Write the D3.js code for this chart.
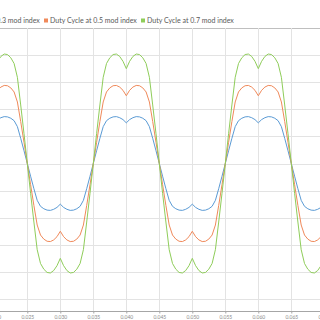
<!DOCTYPE html>
<html>
<head>
<meta charset="utf-8">
<script src="https://cdn.jsdelivr.net/npm/d3@7"></script>
<style>
html,body{margin:0;padding:0;background:#fff;overflow:hidden;}
svg{display:block;}
</style>
</head>
<body>
<svg id="chart" width="320" height="320"></svg>
<script>
const seriesNames = ["Duty Cycle at 0.3 mod index", "Duty Cycle at 0.5 mod index", "Duty Cycle at 0.7 mod index"];
const seriesColors = ["#5b9bd5", "#f0895a", "#8fcd5a"];

const xTicks = [0.020, 0.025, 0.030, 0.035, 0.040, 0.045, 0.050, 0.055, 0.060, 0.065, 0.070];
const yTicks = [0.0, 0.1, 0.2, 0.3, 0.4, 0.5, 0.6, 0.7, 0.8, 0.9, 1.0];

const times = [
 0.0200,0.0205,0.0210,0.0215,0.0220,0.0225,0.0230,0.0235,0.0240,0.0245,
 0.0250,0.0255,0.0260,0.0265,0.0270,0.0275,0.0280,0.0285,0.0290,0.0295,
 0.0300,0.0305,0.0310,0.0315,0.0320,0.0325,0.0330,0.0335,0.0340,0.0345,
 0.0350,0.0355,0.0360,0.0365,0.0370,0.0375,0.0380,0.0385,0.0390,0.0395,
 0.0400,0.0405,0.0410,0.0415,0.0420,0.0425,0.0430,0.0435,0.0440,0.0445,
 0.0450,0.0455,0.0460,0.0465,0.0470,0.0475,0.0480,0.0485,0.0490,0.0495,
 0.0500,0.0505,0.0510,0.0515,0.0520,0.0525,0.0530,0.0535,0.0540,0.0545,
 0.0550,0.0555,0.0560,0.0565,0.0570,0.0575,0.0580,0.0585,0.0590,0.0595,
 0.0600,0.0605,0.0610,0.0615,0.0620,0.0625,0.0630,0.0635,0.0640,0.0645,
 0.0650,0.0655,0.0660,0.0665,0.0670,0.0675,0.0680,0.0685,0.0690,0.0695,
 0.0700
];

const duty03 = [
 0.650,0.662,0.669,0.673,0.672,0.667,0.658,0.636,0.593,0.547,
 0.500,0.453,0.407,0.364,0.342,0.333,0.328,0.327,0.331,0.338,
 0.350,0.338,0.331,0.327,0.328,0.333,0.342,0.364,0.407,0.453,
 0.500,0.547,0.593,0.636,0.658,0.667,0.672,0.673,0.669,0.662,
 0.650,0.662,0.669,0.673,0.672,0.667,0.658,0.636,0.593,0.547,
 0.500,0.453,0.407,0.364,0.342,0.333,0.328,0.327,0.331,0.338,
 0.350,0.338,0.331,0.327,0.328,0.333,0.342,0.364,0.407,0.453,
 0.500,0.547,0.593,0.636,0.658,0.667,0.672,0.673,0.669,0.662,
 0.650,0.662,0.669,0.673,0.672,0.667,0.658,0.636,0.593,0.547,
 0.500,0.453,0.407,0.364,0.342,0.333,0.328,0.327,0.331,0.338,
 0.350
];

const duty05 = [
 0.750,0.770,0.782,0.788,0.787,0.779,0.764,0.727,0.655,0.578,
 0.500,0.422,0.345,0.273,0.236,0.221,0.213,0.212,0.218,0.230,
 0.250,0.230,0.218,0.212,0.213,0.221,0.236,0.273,0.345,0.422,
 0.500,0.578,0.655,0.727,0.764,0.779,0.787,0.788,0.782,0.770,
 0.750,0.770,0.782,0.788,0.787,0.779,0.764,0.727,0.655,0.578,
 0.500,0.422,0.345,0.273,0.236,0.221,0.213,0.212,0.218,0.230,
 0.250,0.230,0.218,0.212,0.213,0.221,0.236,0.273,0.345,0.422,
 0.500,0.578,0.655,0.727,0.764,0.779,0.787,0.788,0.782,0.770,
 0.750,0.770,0.782,0.788,0.787,0.779,0.764,0.727,0.655,0.578,
 0.500,0.422,0.345,0.273,0.236,0.221,0.213,0.212,0.218,0.230,
 0.250
];

const duty07 = [
 0.850,0.877,0.895,0.904,0.902,0.890,0.869,0.818,0.716,0.610,
 0.500,0.390,0.284,0.182,0.131,0.110,0.098,0.096,0.105,0.123,
 0.150,0.123,0.105,0.096,0.098,0.110,0.131,0.182,0.284,0.390,
 0.500,0.610,0.716,0.818,0.869,0.890,0.902,0.904,0.895,0.877,
 0.850,0.877,0.895,0.904,0.902,0.890,0.869,0.818,0.716,0.610,
 0.500,0.390,0.284,0.182,0.131,0.110,0.098,0.096,0.105,0.123,
 0.150,0.123,0.105,0.096,0.098,0.110,0.131,0.182,0.284,0.390,
 0.500,0.610,0.716,0.818,0.869,0.890,0.902,0.904,0.895,0.877,
 0.850,0.877,0.895,0.904,0.902,0.890,0.869,0.818,0.716,0.610,
 0.500,0.390,0.284,0.182,0.131,0.110,0.098,0.096,0.105,0.123,
 0.150
];

const seriesValues = [duty03, duty05, duty07];

const svg = d3.select("#chart");
svg.append("rect").attr("width", 320).attr("height", 320).attr("fill", "#fff");

const x = d3.scaleLinear().domain([0.020, 0.070]).range([-5.7, 324.3]);
const y = d3.scaleLinear().domain([0, 1]).range([299, 28]);
const axisY = 311;

// horizontal gridlines
svg.append("g").selectAll("line").data(yTicks).join("line")
  .attr("x1", 0).attr("x2", 320)
  .attr("y1", d => Math.round(y(d)) + 0.5).attr("y2", d => Math.round(y(d)) + 0.5)
  .attr("stroke", d => d === 1.0 ? "#bfbfbf" : "#e3e3e3")
  .attr("stroke-width", 1);

// vertical gridlines
svg.append("g").selectAll("line").data(xTicks).join("line")
  .attr("x1", d => Math.round(x(d)) + 0.5).attr("x2", d => Math.round(x(d)) + 0.5)
  .attr("y1", y(1)).attr("y2", axisY)
  .attr("stroke", "#e3e3e3").attr("stroke-width", 1);

// x axis
const xAxis = d3.axisBottom(x).tickValues(xTicks).tickFormat(d3.format(".3f"))
  .tickSizeInner(2).tickSizeOuter(0).tickPadding(1.5);
const gx = svg.append("g").attr("transform", `translate(0,${axisY + 0.5})`).call(xAxis);
gx.select(".domain").attr("stroke", "#a6a6a6").attr("d", "M-10,0H330");
gx.selectAll(".tick line").attr("stroke", "#a6a6a6");
gx.selectAll(".tick text").attr("fill", "#8c8c8c").attr("font-size", 5)
  .attr("font-family", "Lato, 'Liberation Sans', sans-serif");

// lines
const line = d3.line().x((d, i) => x(times[i])).y(d => y(d)).curve(d3.curveLinear);
svg.append("g").selectAll("path").data(seriesValues).join("path")
  .attr("d", d => line(d))
  .attr("fill", "none")
  .attr("stroke", (d, i) => seriesColors[i])
  .attr("stroke-width", 1)
  .attr("stroke-linejoin", "round");

// legend
const legendX = [-53, 44, 141];
const lg = svg.append("g").selectAll("g").data(seriesNames).join("g")
  .attr("transform", (d, i) => `translate(${legendX[i]},0)`);
lg.append("rect").attr("x", 0).attr("y", 18.5).attr("width", 4).attr("height", 4)
  .attr("fill", (d, i) => seriesColors[i]);
lg.append("text").attr("x", 6).attr("y", 23.2).text(d => d)
  .attr("fill", "#595959").attr("font-size", 7)
  .attr("font-family", "Lato, 'Liberation Sans', sans-serif");
</script>
</body>
</html>
